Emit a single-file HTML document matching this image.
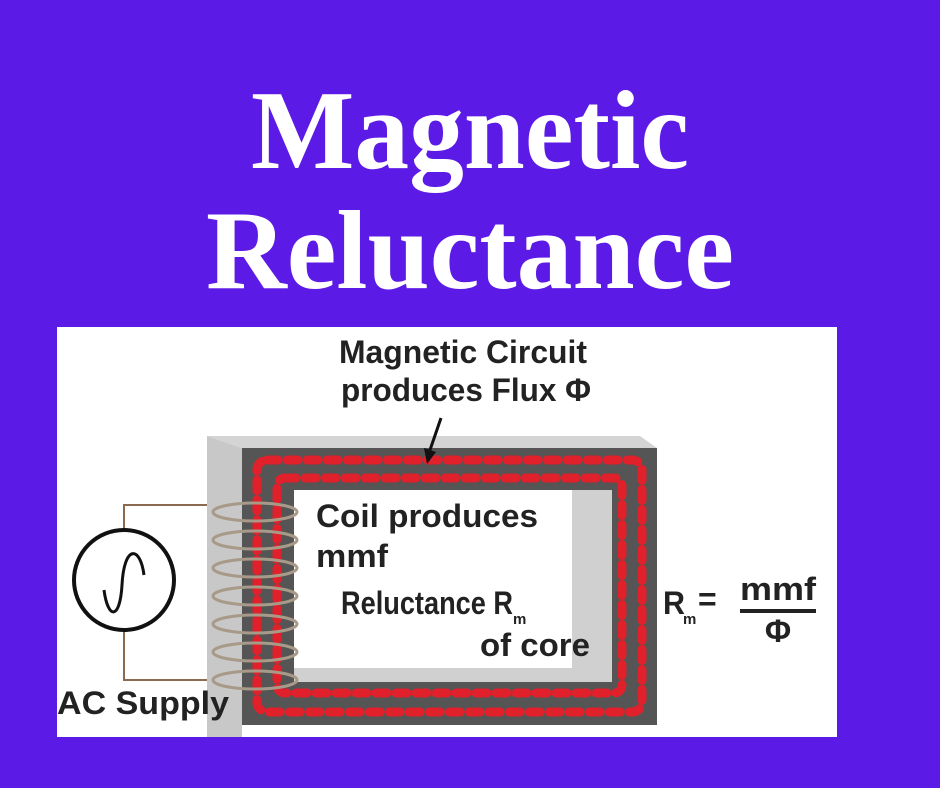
<!DOCTYPE html>
<html><head><meta charset="utf-8"><style>
html,body{margin:0;padding:0;background:#5b1ae6;}
svg{display:block;}
</style></head><body>
<svg width="940" height="788" viewBox="0 0 940 788" xmlns="http://www.w3.org/2000/svg">
<rect x="0" y="0" width="940" height="788" fill="#5b1ae6"/>
<text x="470" y="168" text-anchor="middle" font-family="Liberation Serif, serif" font-weight="bold" font-size="112" fill="#fff" textLength="438" lengthAdjust="spacingAndGlyphs">Magnetic</text>
<text x="470" y="288" text-anchor="middle" font-family="Liberation Serif, serif" font-weight="bold" font-size="112" fill="#fff" textLength="528" lengthAdjust="spacingAndGlyphs">Reluctance</text>
<rect x="57" y="327" width="780" height="410" fill="#fff"/>
<polygon points="207,436 640,436 657,448 242,448" fill="#d4d4d4"/>
<polygon points="207,436 242,448 242,737 207,737" fill="#c8c8c8"/>
<rect x="242" y="448" width="415" height="277" fill="#555"/>
<rect x="294" y="490" width="318" height="192" fill="#d0d0d0"/>
<rect x="294" y="490" width="278" height="178" fill="#fff"/>
<g stroke="#e0202a" stroke-width="9" stroke-dasharray="11 9" fill="none" stroke-linecap="round">
<rect x="257" y="460" width="385" height="252" rx="10"/>
<rect x="277" y="478" width="345" height="215" rx="8"/>
</g>
<g stroke="#8a6a50" stroke-width="2" fill="none">
<polyline points="207,505 124,505 124,530"/>
<polyline points="124,630 124,680 207,680"/>
</g>
<circle cx="124" cy="580" r="50" fill="#fff" stroke="#111" stroke-width="4"/>
<path d="M104,590 C108,620 120,620 122,585 C124,545 140,545 144,575" stroke="#111" stroke-width="3" fill="none"/>
<g fill="none" stroke="#a89a88" stroke-width="3">
<ellipse cx="255" cy="512" rx="42" ry="9"/>
<ellipse cx="255" cy="540" rx="42" ry="9"/>
<ellipse cx="255" cy="568" rx="42" ry="9"/>
<ellipse cx="255" cy="596" rx="42" ry="9"/>
<ellipse cx="255" cy="624" rx="42" ry="9"/>
<ellipse cx="255" cy="652" rx="42" ry="9"/>
<ellipse cx="255" cy="680" rx="42" ry="9"/>
</g>
<line x1="441" y1="418" x2="430" y2="450" stroke="#111" stroke-width="3"/>
<polygon points="424,448 436,452 427,464" fill="#111"/>
<g font-family="Liberation Sans, Arial, sans-serif" font-weight="bold" fill="#222" font-size="32">
<text x="463" y="363" text-anchor="middle" textLength="248" lengthAdjust="spacingAndGlyphs">Magnetic Circuit</text>
<text x="466" y="401" text-anchor="middle" textLength="250" lengthAdjust="spacingAndGlyphs">produces Flux Φ</text>
<text x="316" y="527" textLength="222" lengthAdjust="spacingAndGlyphs">Coil produces</text>
<text x="316" y="567" textLength="72" lengthAdjust="spacingAndGlyphs">mmf</text>
<text x="341" y="614" textLength="172" lengthAdjust="spacingAndGlyphs">Reluctance R</text>
<text x="513" y="624" font-size="15">m</text>
<text x="480" y="656" textLength="110" lengthAdjust="spacingAndGlyphs">of core</text>
<text x="663" y="614" textLength="22" lengthAdjust="spacingAndGlyphs">R</text>
<text x="683" y="624" font-size="15">m</text>
<text x="698" y="610">=</text>
<text x="740" y="600" textLength="76" lengthAdjust="spacingAndGlyphs">mmf</text>
<rect x="740" y="609" width="76" height="4" fill="#222"/>
<text x="778" y="642" text-anchor="middle">Φ</text>
<text x="57" y="714" textLength="172" lengthAdjust="spacingAndGlyphs">AC Supply</text>
</g>
</svg>
</body></html>
